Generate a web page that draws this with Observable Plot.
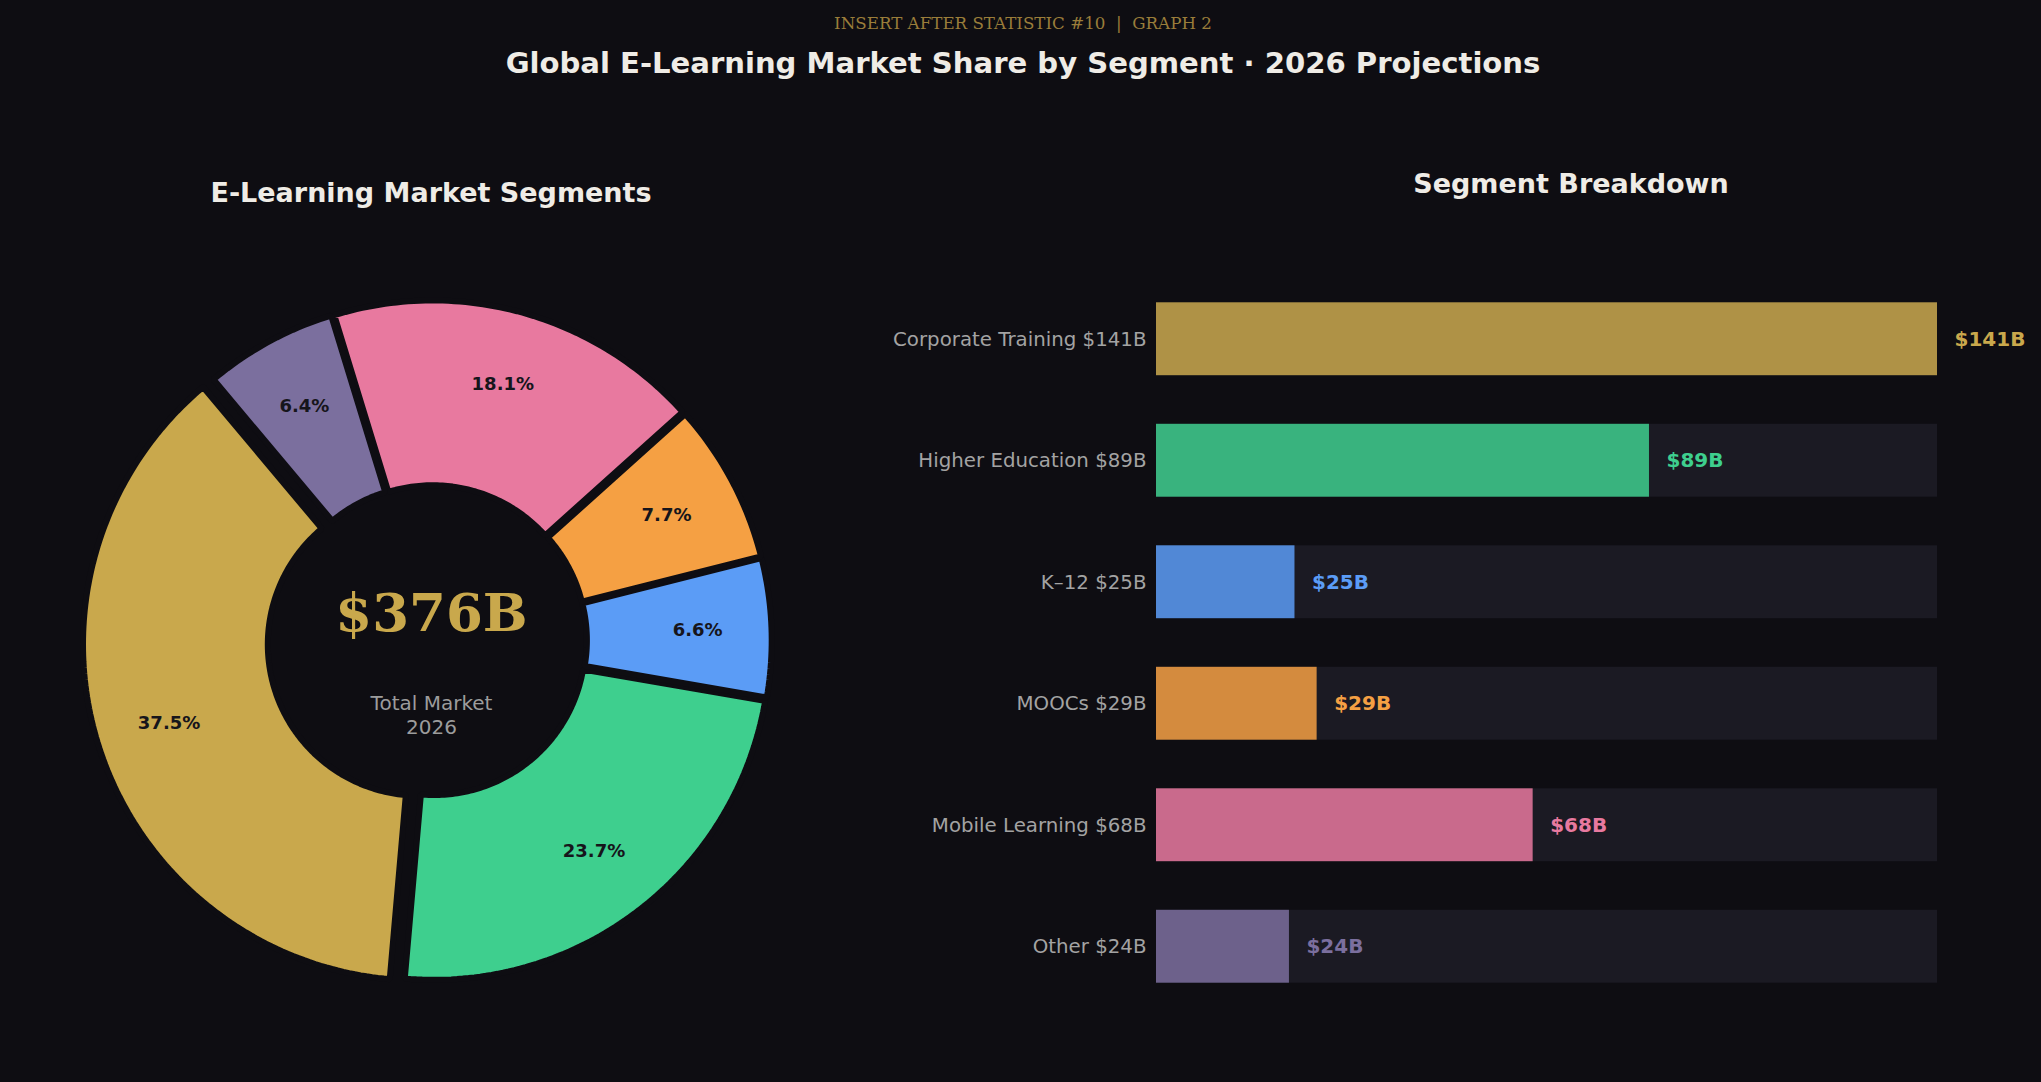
<!DOCTYPE html>
<html>
<head>
<meta charset="utf-8">
<script src="https://cdn.jsdelivr.net/npm/d3@7"></script>
<script src="https://cdn.jsdelivr.net/npm/@observablehq/plot@0.6"></script>
<style>
  html, body { margin: 0; padding: 0; background: #0e0d12; }
  #wrap { position: relative; width: 2041px; height: 1082px; overflow: hidden; background: #0e0d12; }
  .t { position: absolute; white-space: pre; line-height: 1; text-align: center; }
  .box { position: absolute; }
</style>
</head>
<body>
<div id="wrap">
  <div class="t" id="kicker" style="left:0; width:2046px; top:14.8px; font-family:'DejaVu Serif'; font-size:16.7px; color:#9a7d3a;">INSERT AFTER STATISTIC #10  |  GRAPH 2</div>
  <div class="t" id="title" style="left:0; width:2046px; top:49px; font-family:'DejaVu Sans'; font-weight:bold; font-size:29.1px; color:#efece6;">Global E-Learning Market Share by Segment · 2026 Projections</div>
  <div class="t" style="left:0; width:862px; top:179px; font-family:'DejaVu Sans'; font-weight:bold; font-size:27px; color:#efece6;">E-Learning Market Segments</div>
  <div class="t" style="left:1142px; width:858px; top:170px; font-family:'DejaVu Sans'; font-weight:bold; font-size:27px; color:#efece6;">Segment Breakdown</div>
  <div class="box" id="donut" style="left:0; top:0; width:862px; height:1082px;"></div>
  <div class="box" id="bars" style="left:860px; top:0; width:1181px; height:1082px;"></div>
</div>
<script>
// ---- data ----
const segments = ["Corporate Training", "Higher Education", "K–12", "MOOCs", "Mobile Learning", "Other"];
const values = [141, 89, 25, 29, 68, 24];
const colors = ["#c9a84c", "#3ecf8e", "#5b9cf6", "#f5a043", "#e8799f", "#7b6f9e"];
const centerLabel = "Total Market\n2026";

// ---- style constants ----
const BG = "#0e0d12";
const TRACK = "#1b1a23";
const explode = [0.039, 0.0125, 0.0125, 0.0125, 0.0125, 0.0125];
const startDeg = 130;
const innerR = 0.45;
const pctDist = 0.78;

const total = d3.sum(values);
const maxV = d3.max(values);

// ---- donut geometry (derived from values) ----
let acc = 0;
const wedges = values.map((v, i) => {
  const a0 = startDeg + 360 * acc / total;
  const a1 = a0 + 360 * v / total;
  acc += v;
  const am = (a0 + a1) / 2 * Math.PI / 180;
  const ex = explode[i] * Math.cos(am), ey = explode[i] * Math.sin(am);
  const n = Math.max(8, Math.ceil((a1 - a0) / 1));
  const pts = [];
  for (let k = 0; k <= n; k++) {
    const t = (a0 + (a1 - a0) * k / n) * Math.PI / 180;
    pts.push({x: ex + Math.cos(t), y: ey + Math.sin(t)});
  }
  for (let k = n; k >= 0; k--) {
    const t = (a0 + (a1 - a0) * k / n) * Math.PI / 180;
    pts.push({x: ex + innerR * Math.cos(t), y: ey + innerR * Math.sin(t)});
  }
  return {
    name: segments[i], value: v, color: colors[i], pts,
    lx: (pctDist + explode[i]) * Math.cos(am),
    ly: (pctDist + explode[i]) * Math.sin(am),
    pct: (100 * v / total).toFixed(1) + "%"
  };
});

// donut plot: 1 unit = 336px, center at (431, 640)
const PX = 336;
const donut = Plot.plot({
  width: 862, height: 1082,
  margin: 0,
  style: {background: "transparent", fontFamily: "DejaVu Sans"},
  x: {domain: [-431 / PX, 431 / PX], axis: null},
  y: {domain: [-(1082 - 640) / PX, 640 / PX], axis: null},
  marks: [
    ...wedges.map(w => Plot.line(w.pts, {
      x: "x", y: "y", curve: "linear-closed",
      fill: w.color, stroke: BG, strokeWidth: 6, strokeLinejoin: "miter"
    })),
    Plot.text(wedges, {
      x: "lx", y: "ly", text: "pct",
      fill: "#16151b", fontWeight: "bold", fontSize: 18, fontFamily: "DejaVu Sans"
    }),
    Plot.text([total], {
      x: () => 0, y: () => 0, text: d => `$${d}B`,
      fill: "#c9a84c", fontWeight: "bold", fontSize: 53, fontFamily: "DejaVu Serif",
      lineAnchor: "bottom", dy: -10
    }),
    Plot.text([centerLabel], {
      x: () => 0, y: () => 0, text: d => d,
      fill: "#9c9c9c", fontSize: 20, fontFamily: "DejaVu Sans",
      lineAnchor: "top", lineHeight: 1.2, dy: 52
    })
  ]
});
document.getElementById("donut").appendChild(donut);

// ---- bar chart ----
const rows = segments.map((s, i) => ({
  label: `${s} $${values[i]}B`, value: values[i], color: colors[i], max: maxV
}));
const bars = Plot.plot({
  width: 1181, height: 1082,
  marginLeft: 296, marginRight: 104, marginTop: 278, marginBottom: 75,
  style: {background: "transparent", fontFamily: "DejaVu Sans", fontSize: "19.8px", color: "#a3a3a3"},
  x: {domain: [0, maxV], axis: null},
  y: {domain: rows.map(d => d.label), paddingInner: 0.4, paddingOuter: 0.2, round: false, label: null},
  marks: [
    Plot.barX(rows, {x1: () => 0, x2: "max", y: "label", fill: TRACK}),
    Plot.barX(rows, {x1: () => 0, x2: "value", y: "label", fill: "color", fillOpacity: 0.85}),
    Plot.text(rows, {
      x: "value", y: "label", text: d => `$${d.value}B`,
      fill: "color", fontWeight: "bold", fontSize: 20, fontFamily: "DejaVu Sans",
      textAnchor: "start", dx: 17
    }),
    Plot.axisY({tickSize: 0, tickPadding: 10, label: null, fill: "#a3a3a3", fontSize: 19.8})
  ]
});
document.getElementById("bars").appendChild(bars);
</script>
</body>
</html>
